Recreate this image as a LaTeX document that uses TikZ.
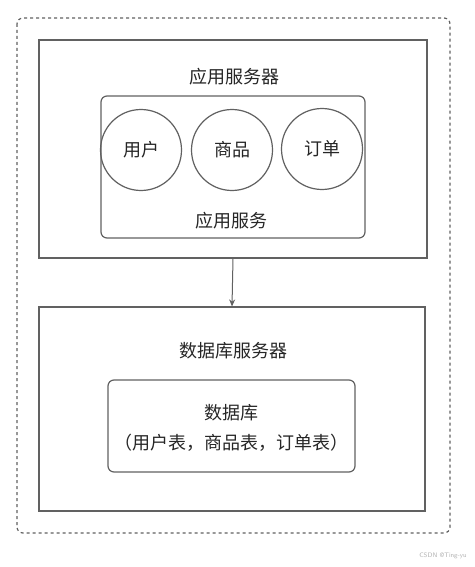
\documentclass[tikz,border=0pt]{standalone}
\usepackage{fontspec}
\newfontfamily\cjk{Noto Sans CJK SC}
\usetikzlibrary{arrows.meta}
\begin{document}
\begin{tikzpicture}[x=1pt,y=-1pt,
  line/.style={draw=black!62, line width=1.2pt},
  lbl/.style={font=\cjk\fontsize{18}{22}\selectfont, text=black!85, inner sep=0pt},
  circ/.style={line, circle, minimum size=81pt, inner sep=0pt, font=\cjk\fontsize{18}{22}\selectfont, text=black!85}]
\useasboundingbox (0,0) rectangle (474,567);
\fill[white] (0,0) rectangle (474,567);
% outer dashed frame
\draw[draw=black!62, line width=1.2pt, dash pattern=on 3pt off 3pt, rounded corners=6pt] (17,18) rectangle (450,533);
% app server
\node[line, minimum width=388pt, minimum height=218pt, inner sep=0pt] (app) at (233,149) {};
\node[lbl] (apptitle) at (234,77) {应用服务器};
\node[line, rounded corners=6pt, minimum width=264pt, minimum height=142pt, inner sep=0pt] (svc) at (233,167) {};
\node[circ] (user) at (141,150) {用户};
\node[circ] (goods) at (232,150) {商品};
\node[circ] (order) at (322,149) {订单};
\node[lbl] (svctitle) at (231,221) {应用服务};
% db server
\node[line, minimum width=386pt, minimum height=204pt, inner sep=0pt] (dbs) at (232,409) {};
\node[lbl] (dbtitle) at (233,351) {数据库服务器};
\node[line, rounded corners=6pt, minimum width=247pt, minimum height=92pt, inner sep=0pt] (db) at (231.5,426) {};
\node[lbl] (dbname) at (231,413) {数据库};
\node[lbl] (dbtables) at (231,443) {（用户表，商品表，订单表）};
% arrow
\draw[line, line width=1pt, -{Stealth[length=7pt,width=6pt]}] (app.south) -- (dbs.north);
% watermark
\node[font=\fontsize{6.5}{8}\selectfont\sffamily, text=black!30, inner sep=0pt] (wm) at (443,556) {CSDN @Ting-yu};
\end{tikzpicture}
\end{document}
